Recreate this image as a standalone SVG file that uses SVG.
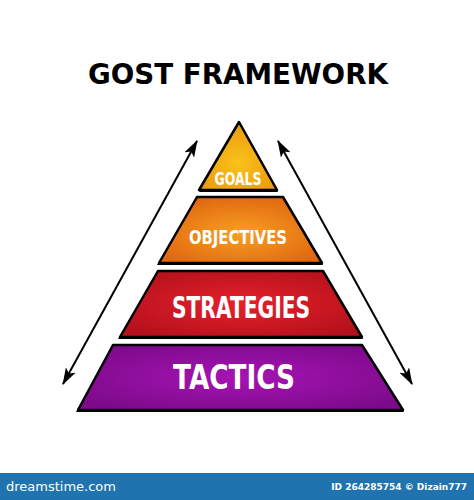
<svg xmlns="http://www.w3.org/2000/svg" width="474" height="500" viewBox="0 0 474 500">
<defs>
<radialGradient id="gGoals" cx="0.5" cy="0.6" r="0.6"><stop offset="0" stop-color="#fbc21a"/><stop offset="1" stop-color="#e9990c"/></radialGradient>
<radialGradient id="gObj" cx="0.5" cy="0.55" r="0.6"><stop offset="0" stop-color="#f8a023"/><stop offset="1" stop-color="#e0650f"/></radialGradient>
<radialGradient id="gStr" cx="0.5" cy="0.5" r="0.6"><stop offset="0" stop-color="#e8202c"/><stop offset="1" stop-color="#b3111c"/></radialGradient>
<radialGradient id="gTac" cx="0.5" cy="0.5" r="0.6"><stop offset="0" stop-color="#a614b4"/><stop offset="1" stop-color="#7c0a8a"/></radialGradient>
<marker id="ah" viewBox="0 0 17 11" refX="16" refY="5.5" markerWidth="17" markerHeight="11" markerUnits="userSpaceOnUse" orient="auto-start-reverse">
<path d="M0,0 L17,5.5 L0,11 L4,5.5 Z" fill="#000"/>
</marker>
</defs>
<style>
.layer{stroke:#000;stroke-width:2.5;stroke-linejoin:round}
.shadow{fill:#000}
.lbl{font-family:"DejaVu Sans","Liberation Sans",sans-serif;font-weight:bold;fill:#fff;text-anchor:middle}
.title{font-family:"DejaVu Sans","Liberation Sans",sans-serif;font-weight:bold;fill:#000;text-anchor:middle}
.conn{stroke:#000;stroke-width:2;fill:none}
.foot{font-family:"DejaVu Sans","Liberation Sans",sans-serif;fill:#fff}
</style>
<rect width="474" height="500" fill="#fff"/>
<text class="title" x="238" y="84" font-size="29" textLength="300" lengthAdjust="spacingAndGlyphs">GOST FRAMEWORK</text>
<g id="connectors">
<line class="conn" x1="63" y1="384" x2="197" y2="141" marker-start="url(#ah)" marker-end="url(#ah)"/>
<line class="conn" x1="412" y1="384" x2="278" y2="141" marker-start="url(#ah)" marker-end="url(#ah)"/>
</g>
<g id="goals">
<polygon class="shadow" points="238,124 278,192 199,192"/>
<polygon class="layer" fill="url(#gGoals)" points="239,122 277,190 199,190"/>
<text class="lbl" x="238" y="185" font-size="17" textLength="47" lengthAdjust="spacingAndGlyphs">GOALS</text>
</g>
<g id="objectives">
<polygon class="shadow" points="196,199 284,199 323,265 157,265"/>
<polygon class="layer" fill="url(#gObj)" points="197,197 283,197 322,263 159,263"/>
<text class="lbl" x="238" y="244" font-size="19" textLength="98" lengthAdjust="spacingAndGlyphs">OBJECTIVES</text>
</g>
<g id="strategies">
<polygon class="shadow" points="157,273 324,273 363,339 118,339"/>
<polygon class="layer" fill="url(#gStr)" points="158,271 323,271 362,337 120,337"/>
<text class="lbl" x="241" y="318" font-size="30" textLength="138" lengthAdjust="spacingAndGlyphs">STRATEGIES</text>
</g>
<g id="tactics">
<polygon class="shadow" points="112,347 364,347 404,412 76,412"/>
<polygon class="layer" fill="url(#gTac)" points="113,345 362,345 403,410 78,410"/>
<text class="lbl" x="234" y="389" font-size="34" textLength="122" lengthAdjust="spacingAndGlyphs">TACTICS</text>
</g>
<rect x="0" y="473" width="474" height="27" fill="#1f73ae"/>
<text class="foot" x="6" y="491" font-size="13">dreamstime.com</text>
<text class="foot" x="467" y="490" font-size="9" font-weight="bold" text-anchor="end">ID 264285754 © Dizain777</text>
</svg>
